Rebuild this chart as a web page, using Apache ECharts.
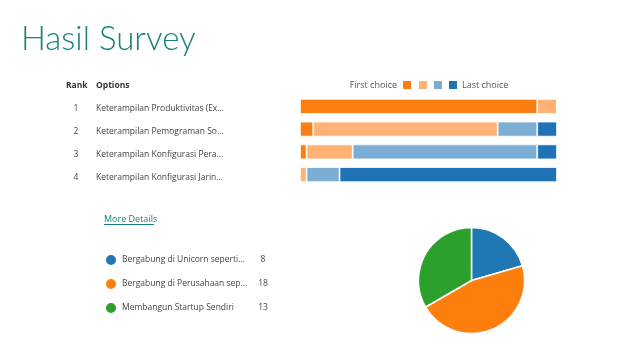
<!DOCTYPE html>
<html><head><meta charset="utf-8">
<script src="https://cdn.jsdelivr.net/npm/echarts@6/dist/echarts.min.js"></script>
<style>html,body{margin:0;padding:0;background:#fff}#c{width:638px;height:359px}</style>
</head><body><div id="c"></div>
<script>
const title = 'Hasil Survey';
const ranks = ['1', '2', '3', '4'];
const options = ['Keterampilan Produktivitas (Ex...', 'Keterampilan Pemograman So...', 'Keterampilan Konfigurasi Pera...', 'Keterampilan Konfigurasi Jarin...'];
const choiceNames = ['First choice', 'Second choice', 'Third choice', 'Last choice'];
const firstChoice = [36, 2, 1, 0];
const secondChoice = [3, 28, 7, 1];
const thirdChoice = [0, 6, 28, 5];
const lastChoice = [0, 3, 3, 33];
const choiceColors = ['#fb7f10', '#ffb273', '#7badd5', '#1f72b5'];
const pieNames = ['Bergabung di Unicorn seperti...', 'Bergabung di Perusahaan sep...', 'Membangun Startup Sendiri'];
const pieValues = [8, 18, 13];
const pieColors = ['#1f77b4', '#ff7f0e', '#2ca02c'];
const FONT = '"Open Sans", "Noto Sans", sans-serif';
const TFONT = 'Lato, "Open Sans", sans-serif';

const chart = echarts.init(document.getElementById('c'), null, {renderer: 'canvas'});
const choiceData = [firstChoice, secondChoice, thirdChoice, lastChoice];
const total = firstChoice[0] + secondChoice[0] + thirdChoice[0] + lastChoice[0];

const legendGraphics = [];
legendGraphics.push({type: 'text', x: 397, y: 85, style: {text: choiceNames[0], font: '9px ' + FONT, fill: '#555', align: 'right', verticalAlign: 'middle'}});
[403, 419, 434, 449].forEach((x, i) => {
  legendGraphics.push({type: 'rect', shape: {x: x, y: 81, width: 8, height: 8}, style: {fill: choiceColors[i]}});
});
legendGraphics.push({type: 'text', x: 462, y: 85, style: {text: choiceNames[3], font: '9px ' + FONT, fill: '#555', verticalAlign: 'middle'}});

chart.setOption({
  animation: false,
  color: pieColors,
  graphic: [
    {type: 'text', x: 21, y: 39, style: {text: title, font: '300 33px ' + TFONT, fill: '#16807a', verticalAlign: 'middle'}},
    {type: 'text', x: 66, y: 86, style: {text: 'Rank', font: 'bold 8.5px ' + FONT, fill: '#333', verticalAlign: 'middle'}},
    {type: 'text', x: 96, y: 86, style: {text: 'Options', font: 'bold 8.5px ' + FONT, fill: '#333', verticalAlign: 'middle'}},
    {type: 'text', x: 104, y: 219, style: {text: 'More Details', font: '9px ' + FONT, fill: '#16807a', verticalAlign: 'middle'}},
    {type: 'line', shape: {x1: 104, y1: 224.5, x2: 154, y2: 224.5}, style: {stroke: '#16807a', lineWidth: 1}},
    ...legendGraphics
  ],
  grid: {left: 300, right: 81, top: 95, height: 91, containLabel: false},
  xAxis: {type: 'value', min: 0, max: total, show: false},
  yAxis: {
    type: 'category', data: options, inverse: true,
    axisLine: {show: false}, axisTick: {show: false},
    axisLabel: {
      align: 'left', margin: 234, padding: [5, 0, 0, 0],
      formatter: (v, i) => '{r|' + ranks[i] + '}{o|' + v + '}',
      rich: {
        r: {width: 20, align: 'center', fontSize: 8.5, fontFamily: FONT, color: '#444'},
        o: {padding: [0, 0, 0, 10], fontSize: 8.5, fontFamily: FONT, color: '#444'}
      }
    }
  },
  legend: {
    data: pieNames, orient: 'vertical', left: 104, top: 253, padding: 0,
    icon: 'circle', itemWidth: 12, itemHeight: 12, itemGap: 10,
    formatter: name => '{n|' + name + '}{v|' + pieValues[pieNames.indexOf(name)] + '}',
    textStyle: {
      rich: {
        n: {width: 131, fontFamily: FONT, fontSize: 8.5, color: '#444'},
        v: {width: 20, align: 'center', fontFamily: FONT, fontSize: 8.5, color: '#444'}
      }
    }
  },
  series: [
    ...choiceData.map((d, i) => ({
      type: 'bar', name: choiceNames[i], stack: 'rank', data: d, barWidth: 15,
      itemStyle: {color: choiceColors[i], borderColor: '#fff', borderWidth: 0.8},
      silent: true
    })),
    {
      type: 'pie', center: [471.5, 280.5], radius: 53, startAngle: 90, clockwise: true,
      label: {show: false}, labelLine: {show: false},
      itemStyle: {borderColor: '#fff', borderWidth: 1.5},
      data: pieNames.map((n, i) => ({name: n, value: pieValues[i], itemStyle: {color: pieColors[i]}}))
    }
  ]
});
</script></body></html>
